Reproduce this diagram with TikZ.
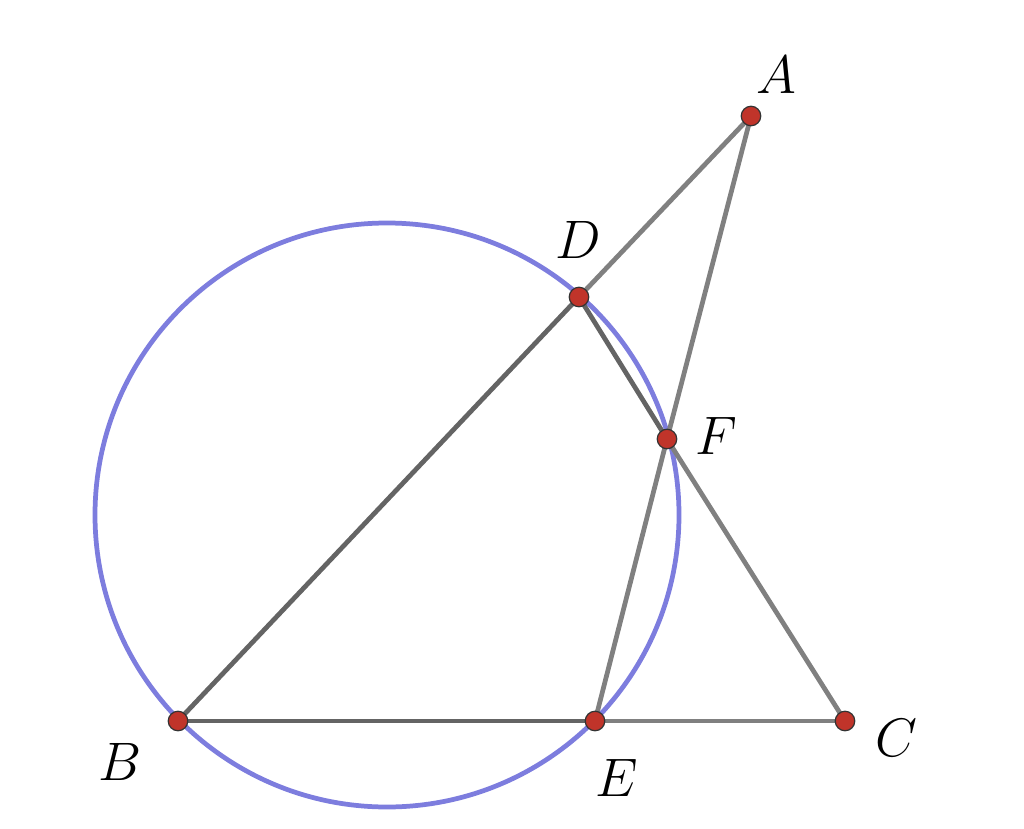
\documentclass[tikz,border=0pt]{standalone}
\usepackage{tikz}
\usepackage{graphicx}
\definecolor{circ}{RGB}{125,125,222}
\definecolor{ptred}{RGB}{192,52,42}
\definecolor{lgray}{RGB}{128,128,128}
\definecolor{dgray}{RGB}{100,100,100}
\newcommand{\biglab}[1]{\scalebox{1.24}{\fontsize{24.88}{26}\selectfont$#1$}}
\tikzset{
  seg/.style={draw=lgray, line width=2.7pt},
  segd/.style={draw=dgray, line width=2.7pt},
  pt/.style={circle, fill=ptred, draw=black!80, line width=0.7pt, minimum size=0.39cm, inner sep=0pt},
  lab/.style={inner sep=0pt}
}
\begin{document}
\begin{tikzpicture}[x=0.02cm,y=-0.02cm]
\useasboundingbox (0,0) rectangle (1024,828);
\draw[circ, line width=2.7pt] (387,515) circle [radius=292];
\coordinate (A) at (751,116);
\coordinate (D) at (579,297);
\coordinate (F) at (667,439);
\coordinate (B) at (178,721);
\coordinate (E) at (595,721);
\coordinate (C) at (845,721);
\draw[seg] (A) -- (D);
\draw[seg] (A) -- (F) -- (E);
\draw[seg] (F) -- (C);
\draw[seg] (E) -- (C);
\draw[segd] (B) -- (D);
\draw[segd] (B) -- (E);
\draw[segd] (D) -- (F);
\node[pt] (nA) at (A) {};
\node[pt] (nD) at (D) {};
\node[pt] (nF) at (F) {};
\node[pt] (nB) at (B) {};
\node[pt] (nE) at (E) {};
\node[pt] (nC) at (C) {};
\node[lab] (lA) at (776,75) {\biglab{A}};
\node[lab] (lD) at (578,240) {\biglab{D}};
\node[lab] (lF) at (716,436) {\biglab{F}};
\node[lab] (lB) at (120,762) {\biglab{B}};
\node[lab] (lE) at (617,778) {\biglab{E}};
\node[lab] (lC) at (896,738) {\biglab{C}};
\end{tikzpicture}
\end{document}
